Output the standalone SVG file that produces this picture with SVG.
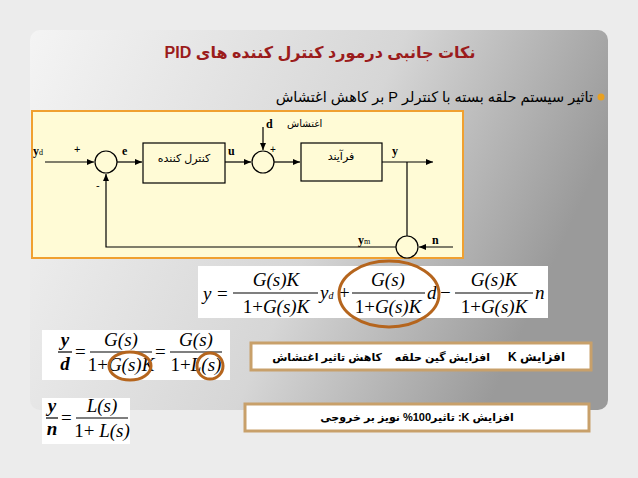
<svg xmlns="http://www.w3.org/2000/svg" width="638" height="478" viewBox="0 0 638 478">
<defs>
<linearGradient id="bg" x1="0" y1="0" x2="1" y2="0.3"><stop offset="0" stop-color="#f4f4f4"/><stop offset="0.6" stop-color="#d6d6d6"/><stop offset="1" stop-color="#9a9a9a"/></linearGradient>
<marker id="ar" markerWidth="8" markerHeight="8" refX="7" refY="3" orient="auto" markerUnits="userSpaceOnUse"><path d="M0,0 L7,3 L0,6z" fill="#000"/></marker>
</defs>
<style>
.ln{stroke:#000;stroke-width:1.2;fill:none}
.bx{fill:none;stroke:#000;stroke-width:1.2}
.sm{fill:#fffbd6;stroke:#000;stroke-width:1.2}
.lb{font-family:"Liberation Serif",serif;font-size:12px;font-weight:bold}
.fa{font-family:"Liberation Sans","DejaVu Sans",sans-serif}
.m{font-family:"Liberation Serif",serif;font-style:italic;font-size:19px}
.mr{font-family:"Liberation Serif",serif;font-size:19px}
.tb{fill:#fff;stroke:#c8a06a;stroke-width:3}
.ov{fill:none;stroke:#b5651d;stroke-width:3}
</style>
<rect width="638" height="478" fill="#ececec"/>
<rect x="30" y="30" width="578" height="380" rx="10" fill="url(#bg)"/>
<text x="320" y="58" text-anchor="middle" class="fa" font-size="16" font-weight="bold" fill="#9b1c1c" direction="rtl">نکات جانبی درمورد کنترل کننده های PID</text>
<circle cx="601" cy="97" r="3.5" fill="#e8a020"/>
<text x="593" y="102" text-anchor="start" class="fa" font-size="14.5" direction="rtl">تاثیر سیستم حلقه بسته با کنترلر P بر کاهش اغتشاش</text>
<rect x="32" y="111" width="431" height="147" fill="#fffbd6" stroke="#f0a030" stroke-width="2"/>
<g id="connectors">
<line class="ln" x1="45" y1="162" x2="94" y2="162" marker-end="url(#ar)"/>
<line class="ln" x1="117" y1="162" x2="142" y2="162" marker-end="url(#ar)"/>
<line class="ln" x1="225" y1="162" x2="251" y2="162" marker-end="url(#ar)"/>
<line class="ln" x1="263" y1="127" x2="263" y2="150" marker-end="url(#ar)"/>
<line class="ln" x1="274" y1="162" x2="300" y2="162" marker-end="url(#ar)"/>
<line class="ln" x1="382" y1="162" x2="433" y2="162" marker-end="url(#ar)"/>
<line class="ln" x1="407" y1="162" x2="407" y2="236"/>
<line class="ln" x1="453" y1="247" x2="419" y2="247" marker-end="url(#ar)"/>
<polyline class="ln" points="396,247 106,247 106,174" marker-end="url(#ar)"/>
</g>
<g id="sum1"><circle class="sm" cx="106" cy="162" r="11"/></g>
<g id="controller"><rect class="bx" x="143" y="143" width="82" height="40"/><text x="184" y="162" text-anchor="middle" class="fa" font-size="11">کنترل کننده</text></g>
<g id="sum2"><circle class="sm" cx="263" cy="162" r="11"/></g>
<g id="process"><rect class="bx" x="301" y="143" width="81" height="38"/><text x="341" y="160" text-anchor="middle" class="fa" font-size="11">فرآیند</text></g>
<g id="sum3"><circle class="sm" cx="407" cy="247" r="11"/></g>
<g id="labels">
<text x="33" y="155" class="lb">y<tspan font-size="8" font-weight="normal">d</tspan></text>
<text x="74" y="153" class="fa" font-size="11">+</text>
<text x="122" y="155" class="lb">e</text>
<text x="228" y="155" class="lb">u</text>
<text x="266" y="128" class="lb">d</text>
<text x="287" y="127" class="fa" font-size="10">اغتشاش</text>
<text x="270" y="153" class="fa" font-size="10">+</text>
<text x="392" y="155" class="lb">y</text>
<text x="96" y="189" class="fa" font-size="11">-</text>
<text x="358" y="244" class="lb">y<tspan font-size="8" font-weight="normal">m</tspan></text>
<text x="432" y="244" class="lb">n</text>
</g>
<g id="eq1">
<rect x="198" y="266" width="350" height="52" fill="#fff"/>
<text x="203" y="300" class="m">y</text><text x="217" y="300" class="mr">=</text>
<line x1="233" y1="293" x2="318" y2="293" stroke="#000" stroke-width="1.2"/>
<text x="276" y="286" text-anchor="middle" class="m">G(s)K</text>
<text x="276" y="313" text-anchor="middle" class="mr">1+<tspan font-style="italic">G(s)K</tspan></text>
<text x="320" y="299" class="m" font-size="14">y<tspan font-size="10">d</tspan></text>
<text x="339" y="299" class="mr">+</text>
<line x1="352" y1="293" x2="425" y2="293" stroke="#000" stroke-width="1.2"/>
<text x="388" y="286" text-anchor="middle" class="m">G(s)</text>
<text x="388" y="313" text-anchor="middle" class="mr">1+<tspan font-style="italic">G(s)K</tspan></text>
<text x="427" y="299" class="m">d</text>
<text x="440" y="299" class="mr">−</text>
<line x1="455" y1="293" x2="533" y2="293" stroke="#000" stroke-width="1.2"/>
<text x="494" y="286" text-anchor="middle" class="m">G(s)K</text>
<text x="494" y="313" text-anchor="middle" class="mr">1+<tspan font-style="italic">G(s)K</tspan></text>
<text x="535" y="299" class="m">n</text>
<ellipse class="ov" cx="389" cy="294" rx="50" ry="33"/>
</g>
<g id="eq2">
<rect x="42" y="330" width="188" height="50" fill="#fff"/>
<line x1="58" y1="352" x2="72" y2="352" stroke="#000" stroke-width="1.2"/>
<text x="65" y="346" text-anchor="middle" class="m" font-weight="bold" font-size="16">y</text>
<text x="65" y="370" text-anchor="middle" class="m" font-weight="bold" font-size="16">d</text>
<text x="75" y="358" class="mr">=</text>
<line x1="90" y1="352" x2="152" y2="352" stroke="#000" stroke-width="1.2"/>
<text x="121" y="346" text-anchor="middle" class="m" font-size="16">G(s)</text>
<text x="121" y="371" text-anchor="middle" class="mr" font-size="16">1+<tspan font-style="italic">G(s)K</tspan></text>
<text x="155" y="358" class="mr">=</text>
<line x1="170" y1="352" x2="222" y2="352" stroke="#000" stroke-width="1.2"/>
<text x="196" y="346" text-anchor="middle" class="m" font-size="16">G(s)</text>
<text x="196" y="371" text-anchor="middle" class="mr" font-size="16">1+<tspan font-style="italic">L(s)</tspan></text>
<ellipse class="ov" cx="130" cy="366" rx="21" ry="14"/>
<ellipse class="ov" cx="210" cy="366" rx="13" ry="13"/>
</g>
<g id="eq3">
<rect x="42" y="398" width="88" height="46" fill="#fff"/>
<line x1="46" y1="418" x2="58" y2="418" stroke="#000" stroke-width="1.2"/>
<text x="52" y="412" text-anchor="middle" class="m" font-weight="bold" font-size="15">y</text>
<text x="52" y="435" text-anchor="middle" class="m" font-weight="bold" font-size="15">n</text>
<text x="61" y="424" class="mr">=</text>
<line x1="76" y1="418" x2="128" y2="418" stroke="#000" stroke-width="1.2"/>
<text x="102" y="412" text-anchor="middle" class="m" font-size="16">L(s)</text>
<text x="102" y="437" text-anchor="middle" class="mr" font-size="16">1+ <tspan font-style="italic">L(s)</tspan></text>
</g>
<g id="note1">
<rect class="tb" x="251" y="343" width="340" height="27"/>
<text x="565" y="361" text-anchor="start" class="fa" font-size="12" font-weight="bold" direction="rtl">افزایش K</text>
<text x="490" y="361" text-anchor="start" class="fa" font-size="11" font-weight="bold" direction="rtl">افزایش گین حلقه</text>
<text x="382" y="361" text-anchor="start" class="fa" font-size="11" font-weight="bold" direction="rtl">کاهش تاثیر اغتشاش</text>
</g>
<g id="note2">
<rect class="tb" x="245" y="404" width="344" height="27"/>
<text x="417" y="421" text-anchor="middle" class="fa" font-size="11" font-weight="bold" direction="rtl">افزایش K: تاثیر100% نویز بر خروجی</text>
</g>
</svg>
